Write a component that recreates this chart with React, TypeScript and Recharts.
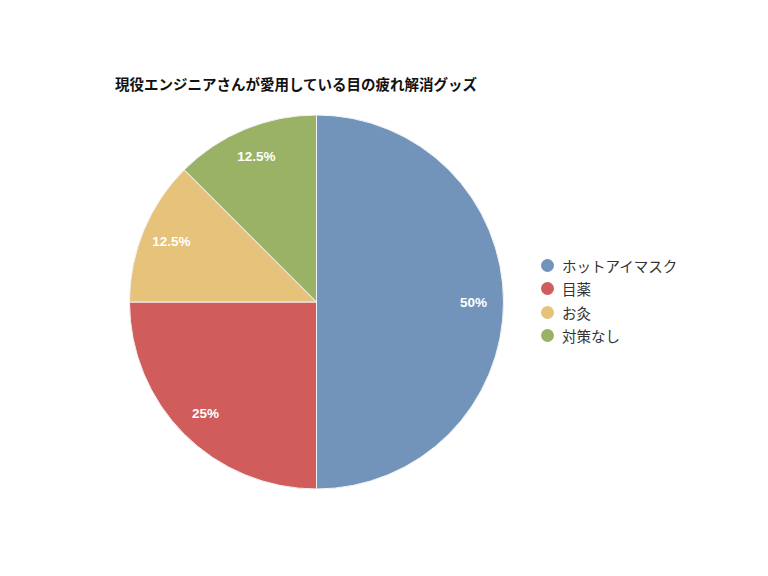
import { Legend, Pie, PieChart, Cell } from "recharts";

const categories = ["ホットアイマスク", "目薬", "お灸", "対策なし"];
const shares = [50, 25, 12.5, 12.5];
const colors = ["#7394BA", "#D05C5B", "#E6C27A", "#9AB266"];
const title = "現役エンジニアさんが愛用している目の疲れ解消グッズ";

const data = categories.map((name, i) => ({ name, value: shares[i] }));

const RAD = Math.PI / 180;

function renderLabel(props: any) {
  const { cx, cy, midAngle, percent } = props;
  const r = 157;
  const x = cx + r * Math.cos(-midAngle * RAD);
  const y = cy + r * Math.sin(-midAngle * RAD);
  const pct = Math.round(percent * 1000) / 10;
  return (
    <text
      x={x}
      y={y}
      fill="#fff"
      textAnchor="middle"
      dominantBaseline="central"
      fontSize={13.5}
      fontWeight="bold"
      fontFamily="'Liberation Sans', Arial, sans-serif"
    >
      {pct}%
    </text>
  );
}

// legend drawn from the same arrays so the order stays as in the data
function renderLegend() {
  return (
    <div>
      {categories.map((name, i) => (
        <div key={name} style={{ display: "flex", alignItems: "center", height: 23.3 }}>
          <span
            style={{
              width: 13,
              height: 13,
              borderRadius: "50%",
              background: colors[i],
              display: "inline-block",
              marginRight: 8,
            }}
          />
          <span style={{ fontSize: 14.5, color: "#333" }}>{name}</span>
        </div>
      ))}
    </div>
  );
}

export default function App() {
  return (
    <div
      style={{
        position: "absolute",
        left: 0,
        top: 0,
        width: 768,
        height: 576,
        background: "#fff",
        fontFamily: "'Noto Sans CJK JP', sans-serif",
      }}
    >
      <div
        style={{
          position: "absolute",
          left: 115,
          top: 74,
          fontSize: 14.5,
          fontWeight: "bold",
          color: "#111",
          lineHeight: "20px",
          whiteSpace: "nowrap",
        }}
      >
        {title}
      </div>
      <PieChart width={768} height={576} margin={{ top: 0, right: 0, bottom: 0, left: 0 }}>
        <Pie
          data={data}
          dataKey="value"
          nameKey="name"
          cx={316.5}
          cy={302}
          outerRadius={187}
          startAngle={90}
          endAngle={-270}
          stroke="#f4f4f4"
          strokeWidth={1}
          labelLine={false}
          label={renderLabel}
          isAnimationActive={false}
        >
          {data.map((_, i) => (
            <Cell key={i} fill={colors[i]} />
          ))}
        </Pie>
        <Legend
          layout="vertical"
          content={renderLegend}
          wrapperStyle={{ position: "absolute", left: 541, top: 254, width: 200 }}
        />
      </PieChart>
    </div>
  );
}
